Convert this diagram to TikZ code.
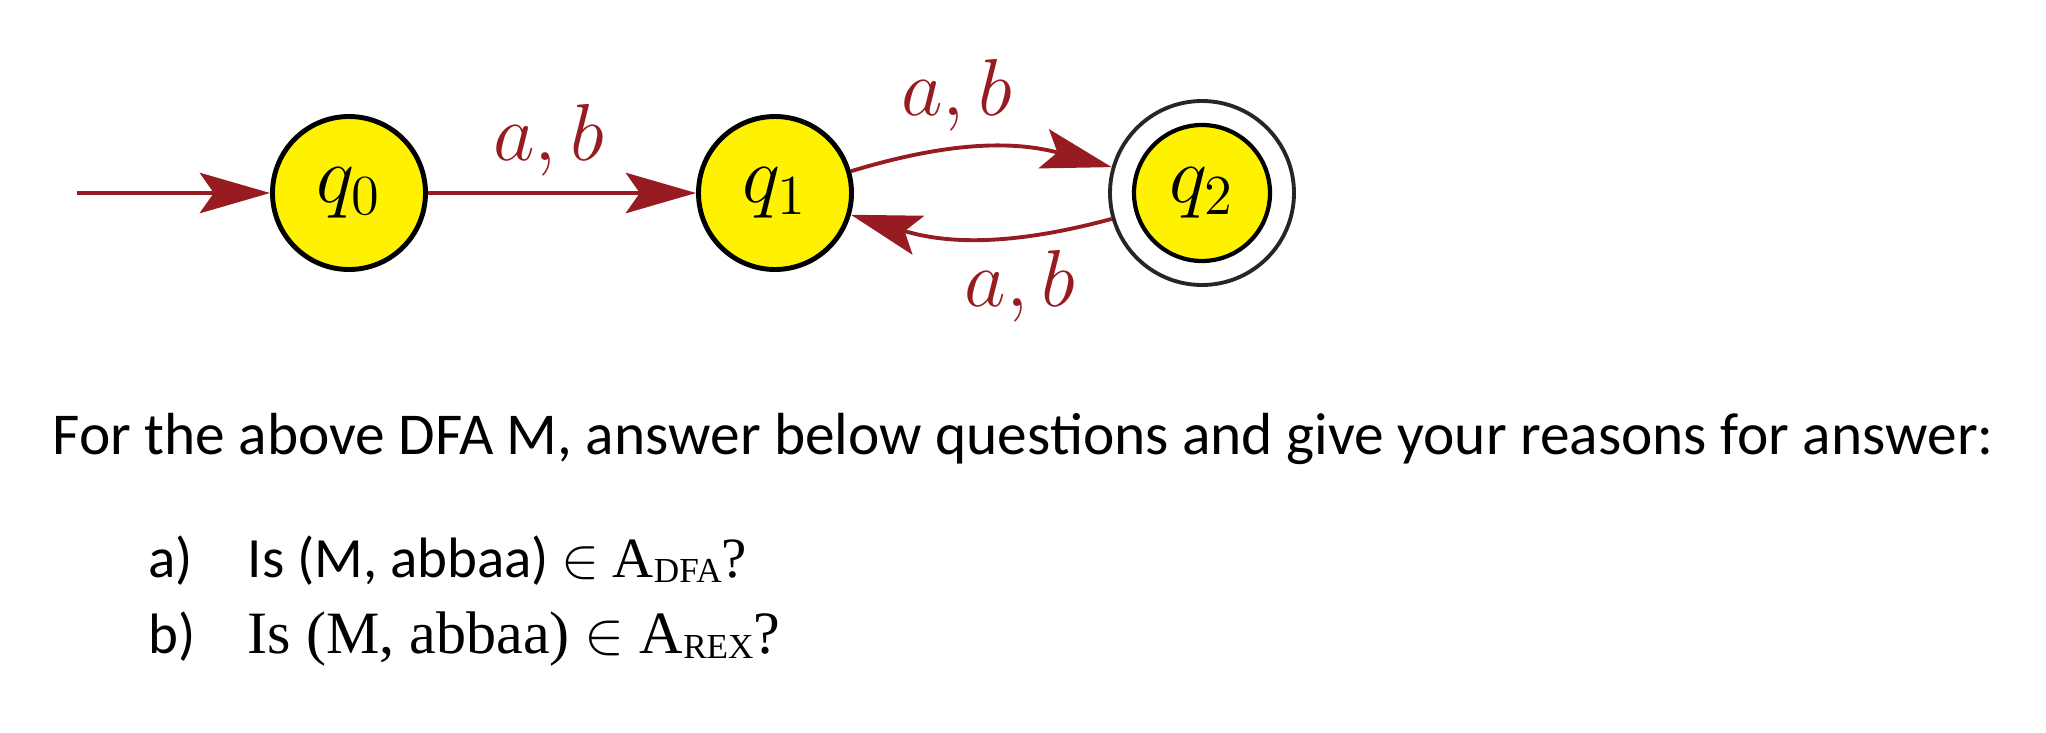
\RequirePackage{fix-cm}
\documentclass[tikz,border=0pt]{standalone}
\usepackage{fontspec}
\setmainfont{Carlito}
\newfontfamily\timesfont{Liberation Serif}
\usepackage{tikz}
\usetikzlibrary{arrows.meta}
\definecolor{arcred}{RGB}{150,28,34}
\definecolor{stateyellow}{RGB}{255,242,0}
\newcommand{\lowsub}[1]{\raisebox{-1.6pt}{\fontsize{10}{12}\selectfont #1}}

\begin{document}
\begin{tikzpicture}[baseline=(current bounding box.center)]
          \useasboundingbox (0,0) rectangle (20.46,-7.33);
          \tikzstyle{StateStyle}=[circle, draw=black, line width=1.4pt, fill=stateyellow, minimum size=1.53cm, inner sep=0pt, font=\fontsize{23}{27}\selectfont]
          \tikzstyle{RingStyle}=[circle, draw=black!85, line width=1.1pt, minimum size=1.84cm]
          \tikzstyle{EdgeStyle}=[draw=arcred, line width=1.1pt, -{Stealth[length=20pt,width=11.5pt,inset=4pt]}]
          \tikzstyle{LabelStyle}=[text=arcred, font=\fontsize{23}{27}\selectfont]
          \tikzstyle{TextStyle}=[anchor=base west, inner sep=0pt, font=\fontsize{16.9}{20}\selectfont]
          % vertices
          \node[StateStyle] (q0) at (3.49,-1.93) {$q_0$};
          \node[StateStyle] (q1) at (7.75,-1.93) {$q_1$};
          \node[StateStyle, minimum size=1.36cm, line width=1.2pt] (q2) at (12.02,-1.93) {$q_2$};
          \node[RingStyle] (q2r) at (12.02,-1.93) {};
          % dummy
          \coordinate (s) at (0.77,-1.93);
          % edges
          \draw[EdgeStyle] (s) -- (q0);
          \draw[EdgeStyle] (q0) -- node[LabelStyle, pos=0.45, above=1pt] {$a,b$} (q1);
          % arrows between q1 and q2
          \draw[EdgeStyle] (q1) to[bend left=16] node[LabelStyle, pos=0.4, above=1.3pt] {$a,b$} (q2r);
          \draw[EdgeStyle] (q2r) to[bend left=16] node[LabelStyle, pos=0.34, below=0pt] {$a,b$} (q1);
          % text
          \node[TextStyle] (intro) at (0.52,-4.54) {For the above DFA M, answer below questions and give your reasons for answer:};
          \node[TextStyle, font=\fontsize{16.2}{19}\selectfont] (la) at (1.48,-5.77) {a)};
          \node[TextStyle, font=\fontsize{16.2}{19}\selectfont] (qa) at (2.47,-5.77) {Is (M, abbaa) $\in$ {\timesfont A\lowsub{DFA}?}};
          \node[TextStyle, font=\fontsize{16.2}{19}\selectfont] (lb) at (1.48,-6.53) {b)};
          \node[TextStyle, font=\fontsize{17.1}{20}\selectfont] (qb) at (2.47,-6.53) {\timesfont Is (M, abbaa) $\in$ A\lowsub{REX}?};
        \end{tikzpicture}
\end{document}
